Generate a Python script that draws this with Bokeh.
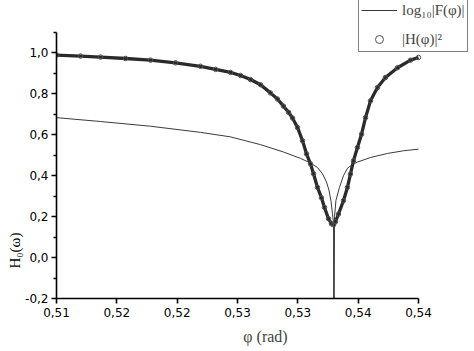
from bokeh.plotting import figure
from bokeh.models import FixedTicker, Legend, LegendItem, Title, Range1d
from bokeh.embed import file_html
from bokeh.resources import INLINE

# |H(phi)|^2 readings
phi_h = [0.51000, 0.51199, 0.51365, 0.51572, 0.51779, 0.51986, 0.52193, 0.52318,
         0.52442, 0.52525, 0.52608, 0.52691, 0.52773, 0.52831, 0.52881, 0.52923,
         0.52956, 0.52997, 0.53039, 0.53072, 0.53105, 0.53130, 0.53163, 0.53196,
         0.53221, 0.53254, 0.53279, 0.53296, 0.53312, 0.53337, 0.53378, 0.53411,
         0.53436, 0.53461, 0.53494, 0.53528, 0.53561, 0.53602, 0.53660, 0.53726,
         0.53826, 0.53934, 0.54000]
h2 = [0.990, 0.985, 0.980, 0.973, 0.965, 0.952, 0.935, 0.920,
      0.905, 0.890, 0.870, 0.845, 0.805, 0.775, 0.740, 0.710,
      0.682, 0.636, 0.571, 0.507, 0.458, 0.410, 0.343, 0.292,
      0.245, 0.190, 0.165, 0.160, 0.175, 0.213, 0.278, 0.343,
      0.408, 0.473, 0.538, 0.603, 0.684, 0.766, 0.831, 0.880,
      0.928, 0.965, 0.978]

# log10|F(phi)| readings
phi_f = [0.51000, 0.51365, 0.51779, 0.52193, 0.52442, 0.52691, 0.52881, 0.53022,
         0.53105, 0.53163, 0.53204, 0.53237, 0.53258, 0.53275, 0.53287, 0.53296,
         0.53298, 0.53304, 0.53316, 0.53345, 0.53378, 0.53412, 0.53453, 0.53495,
         0.53602, 0.53743, 0.53876, 0.54000]
logf = [0.684, 0.665, 0.642, 0.612, 0.590, 0.552, 0.516, 0.485,
        0.462, 0.440, 0.410, 0.370, 0.330, 0.275, 0.215, 0.165,
        -1.000, 0.200, 0.280, 0.343, 0.400, 0.437, 0.455, 0.467,
        0.489, 0.509, 0.522, 0.530]

x_ticks = [0.51, 0.515, 0.52, 0.525, 0.53, 0.535, 0.54]
x_tick_labels = ["0,51", "0,52", "0,52", "0,53", "0,53", "0,54", "0,54"]
y_ticks = [-0.2, 0.0, 0.2, 0.4, 0.6, 0.8, 1.0]
y_tick_labels = ["-0,2", "0,0", "0,2", "0,4", "0,6", "0,8", "1,0"]
y_minor = [-0.1, 0.1, 0.3, 0.5, 0.7, 0.9, 1.1]
x_axis_bounds = (0.51, 0.54)
y_axis_bounds = (-0.2, 1.1)

# frame spans to the top/right edges so the legend is not clipped;
# axis lines are limited with bounds
p = figure(width=474, height=351, output_backend="svg", toolbar_location=None,
           x_range=Range1d(0.51, 0.544641), y_range=Range1d(-0.2, 1.2565),
           min_border_left=56, min_border_right=0, min_border_top=0, min_border_bottom=53)
p.outline_line_color = None
p.grid.visible = False
p.background_fill_color = "white"
p.border_fill_color = "white"

fl = p.line(phi_f, logf, line_color="#3a3a3a", line_width=1)
hl = p.line(phi_h, h2, line_color="#2a2a2a", line_width=3.3)
hs = p.scatter(phi_h, h2, marker="circle", size=4.5, fill_alpha=0,
               line_color="#505050", line_width=1)

tick_font = "DejaVu Sans"
for ax in (p.xaxis[0], p.yaxis[0]):
    ax.axis_line_width = 1.6
    ax.axis_line_color = "black"
    ax.major_tick_line_width = 1.6
    ax.minor_tick_line_width = 1.3
    ax.major_tick_in = 0
    ax.minor_tick_in = 0
    ax.major_label_text_font = tick_font
    ax.major_label_text_font_size = "12px"
    ax.major_label_text_color = "black"

p.xaxis.bounds = x_axis_bounds
p.xaxis.ticker = FixedTicker(ticks=x_ticks)
p.xaxis.major_label_overrides = {t: s for t, s in zip(x_ticks, x_tick_labels)}
p.xaxis.major_tick_out = 5
p.xaxis.minor_tick_out = 0
p.xaxis.major_label_standoff = 4
p.xaxis.axis_label = "φ (rad)"
p.xaxis.axis_label_text_font = "Liberation Serif"
p.xaxis.axis_label_text_font_style = "normal"
p.xaxis.axis_label_text_font_size = "16px"
p.xaxis.axis_label_standoff = 8

p.yaxis.bounds = y_axis_bounds
p.yaxis.ticker = FixedTicker(ticks=y_ticks, minor_ticks=y_minor)
p.yaxis.major_label_overrides = {t: s for t, s in zip(y_ticks, y_tick_labels)}
p.yaxis.major_tick_out = 5
p.yaxis.minor_tick_out = 3
p.yaxis.major_label_standoff = 3

ytitle = Title(text="H₀(ω)", align="left", offset=30, standoff=0,
               text_font="Liberation Serif", text_font_size="15px",
               text_font_style="normal", text_color="black")
p.add_layout(ytitle, "left")

legend = Legend(items=[LegendItem(label="log₁₀|F(φ)|", renderers=[fl]),
                       LegendItem(label="|H(φ)|²", renderers=[hs])],
                location=(302, 246))
legend.border_line_color = "black"
legend.border_line_width = 1
legend.background_fill_color = "white"
legend.background_fill_alpha = 1
legend.padding = 2
legend.margin = 0
legend.spacing = 9
legend.glyph_width = 36
legend.glyph_height = 20
legend.label_height = 20
legend.label_standoff = 5
legend.label_text_font = "Liberation Serif"
legend.label_text_font_size = "15px"
p.add_layout(legend)

open("out.html", "w").write(file_html(p, INLINE))
